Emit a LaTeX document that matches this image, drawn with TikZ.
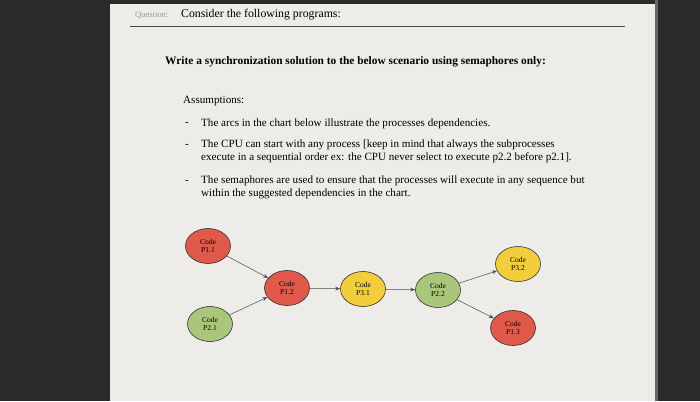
\documentclass[tikz,border=0pt]{standalone}
\usepackage{fontspec}
\setmainfont{Liberation Serif}
\usetikzlibrary{arrows.meta,shapes.geometric}
\definecolor{pg}{HTML}{EDECE8}
\definecolor{dk}{HTML}{2B2A29}
\definecolor{rd}{HTML}{E05A4B}
\definecolor{yl}{HTML}{F2CE3C}
\definecolor{gn}{HTML}{A9C77A}
\tikzset{
 proc/.style={ellipse,draw=black!80,line width=0.6pt,minimum width=45pt,minimum height=35pt,inner sep=0pt,align=center,font=\fontsize{7.5}{8}\selectfont},
 arr/.style={-{Stealth[length=5pt]},draw=black!70,line width=0.5pt},
 txt/.style={anchor=west,inner sep=0pt,font=\fontsize{11.1}{12.2}\selectfont,align=left}
}
\begin{document}
\begin{tikzpicture}[x=1pt,y=-1pt]
\fill[dk] (0,0) rectangle (700,401);
\fill[pg] (110,4) rectangle (655,401);
\fill[black!60] (655,0) rectangle (658,401);
\draw[black!70,line width=0.6pt] (130,26) -- (625,26);
\node[txt,text=black!40,font=\fontsize{8.5}{9}\selectfont] (q) at (135,15) {Question:};
\node[txt,font=\fontsize{11.8}{13}\selectfont] (h) at (181,15) {Consider the following programs:};
\node[txt,font=\bfseries\fontsize{11.4}{13}\selectfont] (t) at (165,62) {Write a synchronization solution to the below scenario using semaphores only:};
\node[txt] (as) at (183,101) {Assumptions:};
\node[txt] (d1) at (185,124) {-};
\node[txt] (b1) at (201,124) {The arcs in the chart below illustrate the processes dependencies.};
\node[txt,anchor=north west] (b2) at (201,140) {The CPU can start with any process [keep in mind that always the subprocesses\\execute in a sequential order ex: the CPU never select to execute p2.2 before p2.1].};
\node[txt] (d2) at (185,146) {-};
\node[txt,anchor=north west] (b3) at (201,176) {The semaphores are used to ensure that the processes will execute in any sequence but\\within the suggested dependencies in the chart.};
\node[txt] (d3) at (185,182) {-};
\node[proc,fill=rd] (p11) at (208,246) {Code\\P1.1};
\node[proc,fill=gn] (p21) at (210,324) {Code\\P2.1};
\node[proc,fill=rd] (p12) at (287,288) {Code\\P1.2};
\node[proc,fill=yl] (p31) at (363,289) {Code\\P3.1};
\node[proc,fill=gn] (p22) at (438,290) {Code\\P2.2};
\node[proc,fill=yl] (p32) at (518,264) {Code\\P3.2};
\node[proc,fill=rd] (p13) at (513,328) {Code\\P1.3};
\draw[arr] (p11) -- (p12);
\draw[arr] (p21) -- (p12);
\draw[arr] (p12) -- (p31);
\draw[arr] (p31) -- (p22);
\draw[arr] (p22) -- (p32);
\draw[arr] (p22) -- (p13);
\end{tikzpicture}
\end{document}
